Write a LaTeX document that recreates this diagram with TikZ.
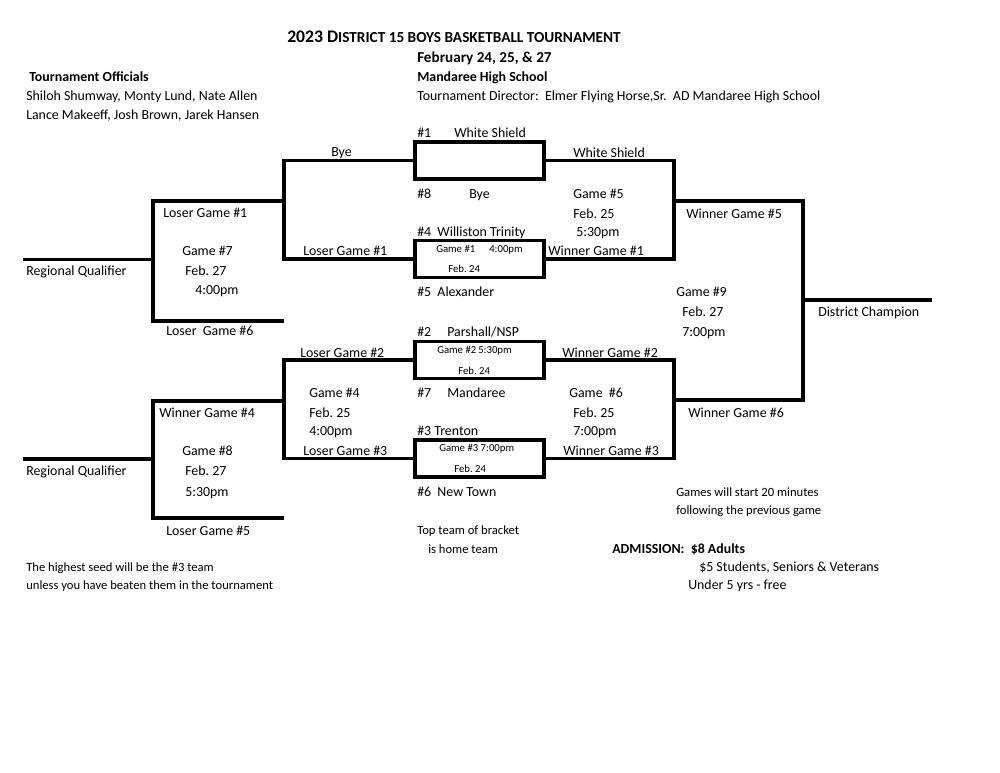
\documentclass[tikz,border=0pt]{standalone}
\usepackage{fontspec}
\setmainfont{Carlito}
\frenchspacing
\begin{document}
\begin{tikzpicture}[x=0.792pt,y=-0.792pt,
  txt/.style={anchor=base west,inner sep=0pt,yshift=-0.8pt,font=\fontsize{11}{13}\selectfont},
  btxt/.style={txt,font=\fontsize{11}{13}\selectfont\bfseries},
  stxt/.style={txt,yshift=0.8pt,font=\fontsize{8.5}{10}\selectfont},
  mtxt/.style={txt,font=\fontsize{10}{12}\selectfont},
  gamebox/.style={draw,line width=2.7pt,minimum width=102pt,minimum height=29.5pt,inner sep=0pt},
  bline/.style={line width=2.7pt}]
\useasboundingbox (0,0) rectangle (1000,773);
% header
\node[txt,font=\fontsize{14}{16}\selectfont\bfseries] (title) at (287,41) {2023 D{\fontsize{12.1}{14}\selectfont ISTRICT 15 BOYS BASKETBALL TOURNAMENT}};
\node[btxt,font=\fontsize{12}{14}\selectfont\bfseries] (dates) at (417,61) {February 24, 25, \& 27};
\node[btxt] (school) at (417,80) {Mandaree High School};
\node[txt] (director) at (417,99) {Tournament Director:\ \ Elmer Flying Horse,Sr.\ \ AD Mandaree High School};
\node[btxt] (officials) at (29,80) {Tournament Officials};
\node[txt] (off1) at (26,99) {Shiloh Shumway, Monty Lund, Nate Allen};
\node[txt] (off2) at (26,118) {Lance Makeeff, Josh Brown, Jarek Hansen};
% game boxes
\node[gamebox] (b1) at (479.5,160.5) {};
\node[gamebox] (b2) at (479.5,259) {};
\node[gamebox] (b3) at (479.5,360) {};
\node[gamebox] (b4) at (479.5,458.5) {};
% bracket coordinates
\coordinate (l1) at (284,160.5);
\coordinate (l2) at (284,360);
\coordinate (r1) at (674,160.5);
\coordinate (r2) at (674,360);
\coordinate (g7a) at (284,201);
\coordinate (g7b) at (153,201);
\coordinate (g7c) at (284,321);
\coordinate (q1a) at (153,259.5);
\coordinate (q1b) at (23,259.5);
\coordinate (g8a) at (284,401);
\coordinate (g8b) at (153,401);
\coordinate (g8c) at (284,518);
\coordinate (q2a) at (153,459);
\coordinate (q2b) at (23,459);
\coordinate (g9a) at (674,201);
\coordinate (g9b) at (803,201);
\coordinate (g9c) at (674,400);
\coordinate (ch1) at (803,300);
\coordinate (ch2) at (932,300);
% bracket lines
\draw[bline] (b1.west) -- (l1) |- (b2.west);
\draw[bline] (b3.west) -- (l2) |- (b4.west);
\draw[bline] (b1.east) -- (r1) |- (b2.east);
\draw[bline] (b3.east) -- (r2) |- (b4.east);
\draw[bline] (g7a) -- (g7b) |- (g7c);
\draw[bline] (q1a) -- (q1b);
\draw[bline] (g8a) -- (g8b) |- (g8c);
\draw[bline] (q2a) -- (q2b);
\draw[bline] (g9a) -- (g9b) |- (g9c);
\draw[bline] (ch1) -- (ch2);
% seeds
\node[txt] (s1) at (417,136) {\#1};
\node[txt] (s1n) at (454,136) {White Shield};
\node[txt] (s8) at (417,197) {\#8};
\node[txt] (s8n) at (469,197) {Bye};
\node[txt] (s4) at (417,235) {\#4\ \ Williston Trinity};
\node[txt] (s5) at (417,295) {\#5\ \ Alexander};
\node[txt] (s2) at (417,335) {\#2};
\node[txt] (s2n) at (447,335) {Parshall/NSP};
\node[txt] (s7) at (417,396) {\#7};
\node[txt] (s7n) at (447,396) {Mandaree};
\node[txt] (s3) at (417,434) {\#3 Trenton};
\node[txt] (s6) at (417,495) {\#6\ \ New Town};
% box contents
\node[stxt] (g1a) at (436,253) {Game \#1};
\node[stxt] (g1b) at (489,253) {4:00pm};
\node[stxt] (g1c) at (448,273) {Feb. 24};
\node[stxt] (g2a) at (437,354) {Game \#2};
\node[stxt] (g2b) at (478,354) {5:30pm};
\node[stxt] (g2c) at (458,375) {Feb. 24};
\node[stxt] (g3a) at (439,452) {Game \#3 7:00pm};
\node[stxt] (g3c) at (454,473) {Feb. 24};
% right side
\node[txt] (ws) at (573,156) {White Shield};
\node[txt] (g5a) at (573,197) {Game \#5};
\node[txt] (g5b) at (573,217) {Feb. 25};
\node[txt] (g5c) at (576,235) {5:30pm};
\node[txt] (wg1) at (548,254) {Winner Game \#1};
\node[txt] (wg2) at (562,356) {Winner Game \#2};
\node[txt] (g6a) at (569,396) {Game\ \ \#6};
\node[txt] (g6b) at (573,416) {Feb. 25};
\node[txt] (g6c) at (573,434) {7:00pm};
\node[txt] (wg3) at (563,454) {Winner Game \#3};
\node[txt] (wg5) at (686,217) {Winner Game \#5};
\node[txt] (g9t1) at (676,295) {Game \#9};
\node[txt] (g9t2) at (682,315) {Feb. 27};
\node[txt] (g9t3) at (682,335) {7:00pm};
\node[txt] (dc) at (818,315) {District Champion};
\node[txt] (wg6) at (688,416) {Winner Game \#6};
% left side
\node[txt] (bye) at (331,155) {Bye};
\node[txt] (lg1a) at (163,216) {Loser Game \#1};
\node[txt] (g7t1) at (182,254) {Game \#7};
\node[txt] (g7t2) at (185,274) {Feb. 27};
\node[txt] (g7t3) at (195,293) {4:00pm};
\node[txt] (rq1) at (26,274) {Regional Qualifier};
\node[txt] (lg1b) at (303,254) {Loser Game \#1};
\node[txt] (lg6) at (166,334) {Loser\ \ Game \#6};
\node[txt] (lg2) at (300,356) {Loser Game \#2};
\node[txt] (g4t1) at (309,396) {Game \#4};
\node[txt] (g4t2) at (309,416) {Feb. 25};
\node[txt] (g4t3) at (309,434) {4:00pm};
\node[txt] (lg3) at (303,454) {Loser Game \#3};
\node[txt] (wg4) at (159,416) {Winner Game \#4};
\node[txt] (g8t1) at (182,454) {Game \#8};
\node[txt] (g8t2) at (185,474) {Feb. 27};
\node[txt] (g8t3) at (185,495) {5:30pm};
\node[txt] (rq2) at (26,474) {Regional Qualifier};
\node[txt] (lg5) at (166,534) {Loser Game \#5};
% notes
\node[mtxt] (n1) at (676,495) {Games will start 20 minutes};
\node[mtxt] (n2) at (676,513) {following the previous game};
\node[mtxt] (n3) at (417,533) {Top team of bracket};
\node[mtxt] (n4) at (428,552) {is home team};
\node[btxt] (adm) at (612,552) {ADMISSION:\ \ \$8 Adults};
\node[txt] (adm2) at (699,570) {\$5 Students, Seniors \& Veterans};
\node[txt] (adm3) at (688,588) {Under 5 yrs - free};
\node[mtxt] (n5) at (26,570) {The highest seed will be the \#3 team};
\node[mtxt] (n6) at (26,588) {unless you have beaten them in the tournament};
\end{tikzpicture}
\end{document}
